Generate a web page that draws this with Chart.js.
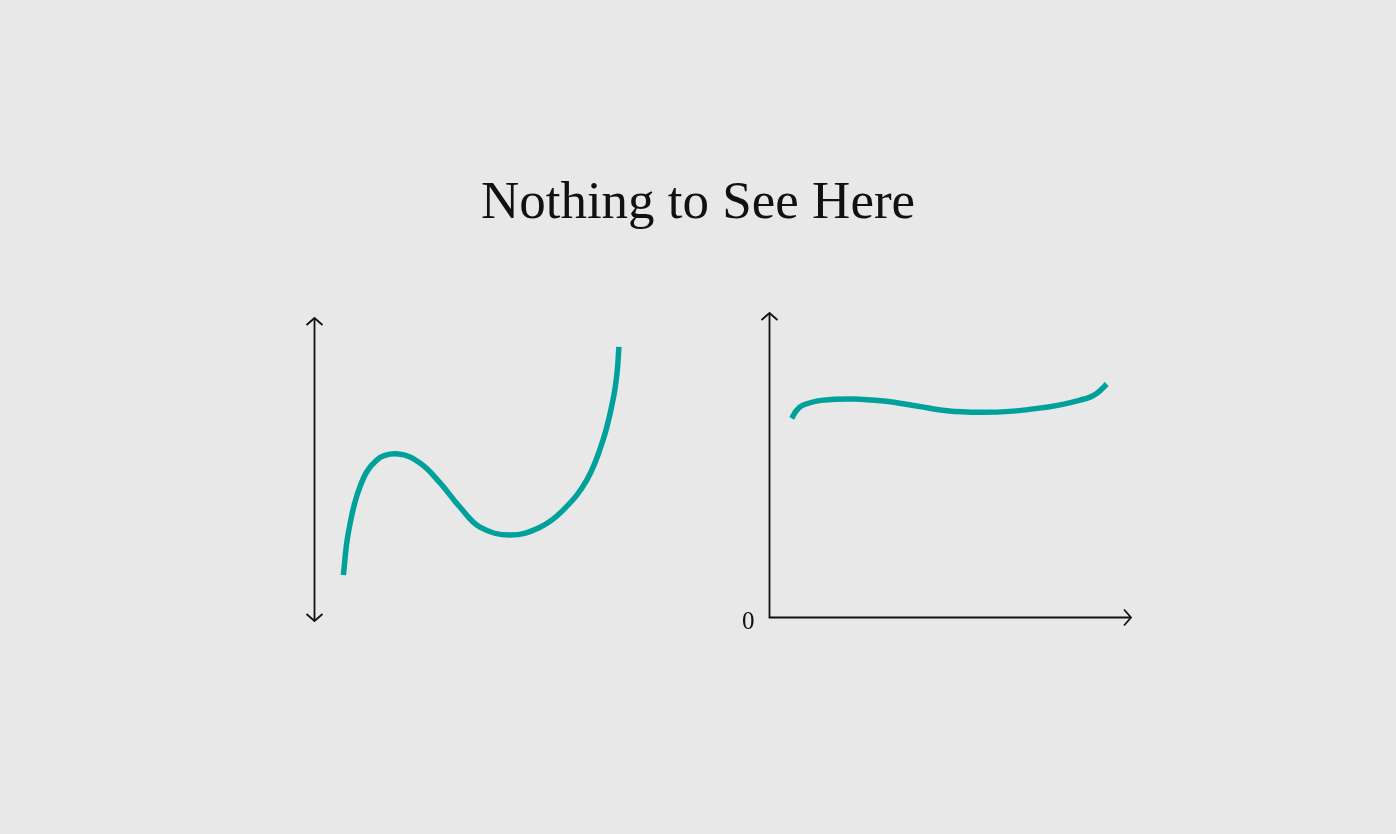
<!DOCTYPE html>
<html>
<head>
<meta charset="utf-8">
<script src="https://cdn.jsdelivr.net/npm/chart.js@4/dist/chart.umd.min.js"></script>
<style>
  html, body { margin: 0; padding: 0; background: #e8e8e8; }
  body { width: 1396px; height: 834px; position: relative; overflow: hidden; }
  #title {
    position: absolute; left: 0; top: 174px; width: 1396px;
    text-align: center; font-family: "Liberation Serif", serif;
    font-size: 53px; line-height: 53px; color: #111;
  }
  canvas { position: absolute; }
  #left-canvas { left: 294px; top: 300px; }
  #right-canvas { left: 720px; top: 295px; }
</style>
</head>
<body>
<div id="title">Nothing to See Here</div>
<canvas id="left-canvas" width="360" height="340"></canvas>
<canvas id="right-canvas" width="430" height="345"></canvas>
<script>
// left panel: wiggly curve, no zero line
var leftX = [0.89, 1.04, 1.39, 1.90, 2.55, 3.21, 3.82, 4.42, 5.03, 5.94, 6.85, 7.55, 8.27, 8.76, 9.06, 9.18, 9.24];
var leftY = [1.54, 2.92, 4.43, 5.31, 5.51, 5.21, 4.56, 3.77, 3.11, 2.85, 3.11, 3.67, 4.66, 5.97, 7.28, 8.13, 9.02];

// right panel: almost flat curve above zero
var rightX = [0.63, 0.75, 0.95, 1.51, 2.34, 3.18, 4.10, 4.94, 5.86, 6.78, 7.71, 8.19, 8.64, 8.92, 9.10, 9.25, 9.38];
var rightY = [6.51, 6.75, 6.95, 7.11, 7.15, 7.08, 6.92, 6.76, 6.71, 6.75, 6.88, 6.98, 7.11, 7.21, 7.33, 7.48, 7.64];

var zeroLabel = '0';

(function() {
    'use strict';

    var teal = '#00a19a';
    var ink = '#111111';

    function toPoints(xs, ys) {
        var pts = [];
        for (var i = 0; i < xs.length; i++) {
            pts.push({ x: xs[i], y: ys[i] });
        }
        return pts;
    }

    function arrowHead(ctx, x, y, dir) {
        // dir: 'up', 'down', 'right'
        ctx.beginPath();
        if (dir === 'up') {
            ctx.moveTo(x - 8, y + 8); ctx.lineTo(x, y + 1); ctx.lineTo(x + 8, y + 8);
        } else if (dir === 'down') {
            ctx.moveTo(x - 8, y - 8); ctx.lineTo(x, y - 1); ctx.lineTo(x + 8, y - 8);
        } else {
            ctx.moveTo(x - 8, y - 8); ctx.lineTo(x - 1, y); ctx.lineTo(x - 8, y + 8);
        }
        ctx.stroke();
    }

    var leftAxis = {
        id: 'leftAxis',
        beforeDatasetsDraw: function(chart) {
            var ctx = chart.ctx;
            var xs = chart.scales.x, ys = chart.scales.y;
            var x0 = Math.round(xs.getPixelForValue(0)) + 0.5;
            var top = ys.getPixelForValue(10);
            var bottom = ys.getPixelForValue(0);
            ctx.save();
            ctx.strokeStyle = ink;
            ctx.lineWidth = 1.8;
            ctx.beginPath();
            ctx.moveTo(x0, top + 1);
            ctx.lineTo(x0, bottom - 1);
            ctx.stroke();
            arrowHead(ctx, x0, top, 'up');
            arrowHead(ctx, x0, bottom, 'down');
            ctx.restore();
        }
    };

    var rightAxis = {
        id: 'rightAxis',
        beforeDatasetsDraw: function(chart) {
            var ctx = chart.ctx;
            var xs = chart.scales.x, ys = chart.scales.y;
            var x0 = Math.round(xs.getPixelForValue(0)) + 0.5;
            var y0 = Math.round(ys.getPixelForValue(0)) + 0.5;
            var top = ys.getPixelForValue(10);
            var right = xs.getPixelForValue(10) + 3;
            ctx.save();
            ctx.strokeStyle = ink;
            ctx.lineWidth = 1.8;
            ctx.beginPath();
            ctx.moveTo(x0, top + 1);
            ctx.lineTo(x0, y0);
            ctx.lineTo(right - 1, y0);
            ctx.stroke();
            arrowHead(ctx, x0, top, 'up');
            arrowHead(ctx, right, y0, 'right');
            ctx.fillStyle = ink;
            ctx.font = '25px "Liberation Serif", serif';
            ctx.textAlign = 'right';
            ctx.textBaseline = 'alphabetic';
            ctx.fillText(zeroLabel, x0 - 15, y0 + 11);
            ctx.restore();
        }
    };

    function makeOptions(pad) {
        return {
            responsive: false,
            animation: false,
            layout: { padding: pad },
            plugins: { legend: { display: false }, tooltip: { enabled: false } },
            elements: { point: { radius: 0 } },
            scales: {
                x: { type: 'linear', min: 0, max: 10, display: false },
                y: { type: 'linear', min: 0, max: 10, display: false }
            }
        };
    }

    function lineSet(points) {
        return {
            data: points,
            borderColor: teal,
            borderWidth: 5.5,
            borderCapStyle: 'butt',
            tension: 0.4,
            fill: false
        };
    }

    new Chart(document.getElementById('left-canvas').getContext('2d'), {
        type: 'line',
        data: { datasets: [lineSet(toPoints(leftX, leftY))] },
        options: makeOptions({ left: 20, right: 10, top: 17, bottom: 18 }),
        plugins: [leftAxis]
    });

    new Chart(document.getElementById('right-canvas').getContext('2d'), {
        type: 'line',
        data: { datasets: [lineSet(toPoints(rightX, rightY))] },
        options: makeOptions({ left: 49, right: 21, top: 17, bottom: 23 }),
        plugins: [rightAxis]
    });
})();
</script>
</body>
</html>
